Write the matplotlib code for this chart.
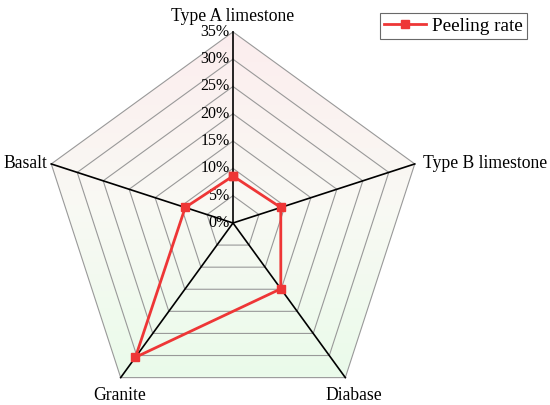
import numpy as np
import matplotlib.pyplot as plt
from matplotlib.patches import Polygon
from matplotlib.colors import LinearSegmentedColormap

plt.rcParams['font.family'] = ['Liberation Serif', 'DejaVu Serif']

categories = ['Type A limestone', 'Type B limestone', 'Diabase', 'Granite', 'Basalt']
peeling_rate = [8.6, 9.2, 14.9, 30.4, 9.2]
ticks = [0, 5, 10, 15, 20, 25, 30, 35]
rmax = 35

n = len(categories)
angles = np.deg2rad(90 - 72 * np.arange(n))

fig = plt.figure(figsize=(5.5, 4.05), dpi=100)
ax = fig.add_axes([0, 0, 1, 1])
scale = 5.46
ax.set_xlim(-233 / scale, (550 - 233) / scale)
ax.set_ylim(-(405 - 223) / scale, 223 / scale)
ax.set_aspect('equal')
ax.axis('off')

# gradient background clipped to outer pentagon
outer = np.column_stack([rmax * np.cos(angles), rmax * np.sin(angles)])
pent = Polygon(outer, closed=True, facecolor='none', edgecolor='none')
ax.add_patch(pent)
cmap = LinearSegmentedColormap.from_list('bg', ['#eafbea', '#f9f9f4', '#fcedee'])
grad = np.linspace(0, 1, 256).reshape(-1, 1)
im = ax.imshow(grad, cmap=cmap, origin='lower', aspect='auto',
               extent=[-rmax, rmax, rmax * np.sin(angles[3]), rmax], zorder=0)
im.set_clip_path(pent)

# rings
for t in ticks[1:]:
    xs = t * np.cos(np.append(angles, angles[0]))
    ys = t * np.sin(np.append(angles, angles[0]))
    ax.plot(xs, ys, color='#999999', lw=0.8, zorder=1)

# spokes
for a in angles:
    ax.plot([0, rmax * np.cos(a)], [0, rmax * np.sin(a)], color='black', lw=1.2, zorder=2)

# tick labels
for t in ticks:
    ax.text(-0.6, t, f'{t}%', ha='right', va='center', fontsize=11.5, zorder=3)

# category labels
fs = 12.7
ax.text(0, rmax + 1.3, categories[0], ha='center', va='bottom', fontsize=fs)
ax.text(rmax * np.cos(angles[1]) + 1.6, rmax * np.sin(angles[1]), categories[1],
        ha='left', va='center', fontsize=fs)
ax.text(rmax * np.cos(angles[2]) + 1.5, rmax * np.sin(angles[2]) - 1.75, categories[2],
        ha='center', va='top', fontsize=fs)
ax.text(rmax * np.cos(angles[3]) - 0.2, rmax * np.sin(angles[3]) - 1.75, categories[3],
        ha='center', va='top', fontsize=fs)
ax.text(rmax * np.cos(angles[4]) - 0.8, rmax * np.sin(angles[4]), categories[4],
        ha='right', va='center', fontsize=fs)

# data
vals = np.array(peeling_rate + peeling_rate[:1])
ang = np.append(angles, angles[0])
ax.plot(vals * np.cos(ang), vals * np.sin(ang), color='#ee3636', lw=2,
        marker='s', markersize=6, label='Peeling rate', zorder=5)

leg = ax.legend(loc='upper right', bbox_to_anchor=(527 / 550, 1 - 13 / 405),
                fontsize=13.8, frameon=True, fancybox=False, edgecolor='#444444',
                borderpad=0.22, handlelength=2.2, handletextpad=0.3, borderaxespad=0)
leg.get_frame().set_linewidth(0.8)

plt.savefig('out.png', dpi=100)
